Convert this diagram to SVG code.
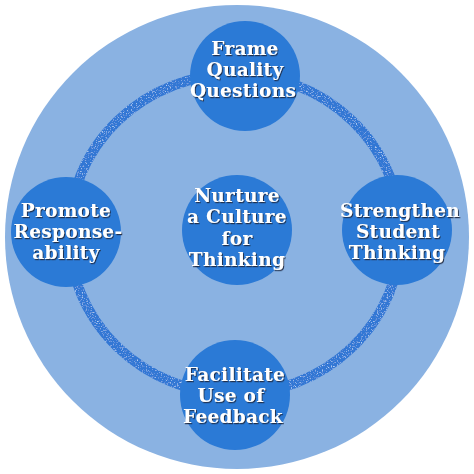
<svg xmlns="http://www.w3.org/2000/svg" width="474" height="474" viewBox="0 0 474 474">
<defs>
<filter id="sh" x="-10%" y="-10%" width="120%" height="130%">
<feDropShadow dx="1" dy="1.2" stdDeviation="0.6" flood-color="#1a2a40" flood-opacity="0.9"/>
</filter>
<filter id="grain" x="-5%" y="-5%" width="110%" height="110%">
<feTurbulence type="fractalNoise" baseFrequency="0.8" numOctaves="2" seed="3" result="n"/>
<feColorMatrix in="n" type="matrix" values="0 0 0 0 0.5  0 0 0 0 0.68  0 0 0 0 0.93  0 0 0 -3 1.35" result="c"/>
<feComposite in="c" in2="SourceGraphic" operator="in" result="m"/>
<feMerge><feMergeNode in="SourceGraphic"/><feMergeNode in="m"/></feMerge>
</filter>
<style>
.node{fill:#2b7ad6}
.t{font-family:"DejaVu Serif","Liberation Serif",serif;font-weight:bold;font-size:18.5px;letter-spacing:0.3px;fill:#ffffff;text-anchor:middle;filter:url(#sh)}
</style>
</defs>
<rect width="474" height="474" fill="#ffffff"/>
<circle cx="237" cy="237" r="232" fill="#8ab2e2"/>
<g id="connectors">
<ellipse cx="235" cy="234" rx="166" ry="160" fill="none" stroke="#3377d4" stroke-width="10" filter="url(#grain)"/>
</g>
<g id="top">
<circle class="node" cx="245" cy="76" r="55"/>
<text class="t" x="245" y="55">Frame</text>
<text class="t" x="245" y="76">Quality</text>
<text class="t" x="243" y="97">Questions</text>
</g>
<g id="center">
<circle class="node" cx="237" cy="230" r="55"/>
<text class="t" x="237" y="202">Nurture</text>
<text class="t" x="237" y="223">a Culture</text>
<text class="t" x="237" y="245">for</text>
<text class="t" x="237" y="266">Thinking</text>
</g>
<g id="left">
<circle class="node" cx="66" cy="232" r="55"/>
<text class="t" x="66" y="217">Promote</text>
<text class="t" x="68" y="238">Response-</text>
<text class="t" x="66" y="259">ability</text>
</g>
<g id="right">
<circle class="node" cx="397" cy="230" r="55"/>
<text class="t" x="400" y="217">Strengthen</text>
<text class="t" x="398" y="238">Student</text>
<text class="t" x="397" y="259">Thinking</text>
</g>
<g id="bottom">
<circle class="node" cx="235" cy="395" r="55"/>
<text class="t" x="235" y="381">Facilitate</text>
<text class="t" x="231" y="402">Use of</text>
<text class="t" x="233" y="423">Feedback</text>
</g>
</svg>
